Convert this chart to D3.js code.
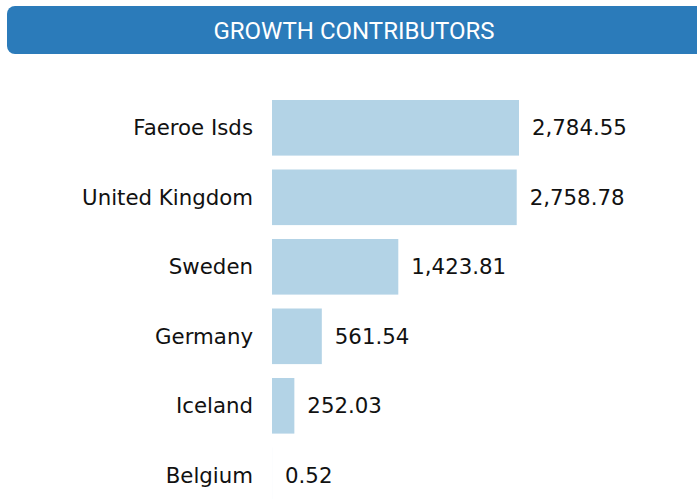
<!DOCTYPE html>
<html>
<head>
<meta charset="utf-8">
<script src="https://cdn.jsdelivr.net/npm/d3@7"></script>
<style>
  html, body { margin: 0; padding: 0; background: #ffffff; }
  svg { display: block; }
</style>
</head>
<body>
<svg id="chart" width="697" height="499"></svg>
<script>
// Contributors and their growth values
const countries = ["Faeroe Isds", "United Kingdom", "Sweden", "Germany", "Iceland", "Belgium"];
const values = [2784.55, 2758.78, 1423.81, 561.54, 252.03, 0.52];
const title = "GROWTH CONTRIBUTORS";

const svg = d3.select("#chart");

// Header banner
svg.append("rect")
  .attr("x", 7).attr("y", 6)
  .attr("width", 697).attr("height", 48)
  .attr("rx", 8).attr("ry", 8)
  .attr("fill", "#2b7bba");

svg.append("text")
  .attr("x", 354).attr("y", 31)
  .attr("text-anchor", "middle")
  .attr("dominant-baseline", "central")
  .attr("font-family", "Roboto, sans-serif")
  .attr("font-size", 24)
  .attr("fill", "#ffffff")
  .text(title);

const data = countries.map((c, i) => ({ name: c, value: values[i] }));

const x = d3.scaleLinear()
  .domain([0, d3.max(values)])
  .range([272, 519]);

// 69.5px per row, bars filling 80% of each row
const step = 69.5, padIn = 0.2;
const y = d3.scaleBand()
  .domain(countries)
  .range([100, 100 + step * (countries.length - padIn)])
  .paddingInner(padIn)
  .paddingOuter(0);

const fmt = d3.format(",.2f");

// Bars
svg.append("g").selectAll("rect")
  .data(data)
  .join("rect")
  .attr("x", x(0))
  .attr("y", d => y(d.name))
  .attr("width", d => Math.max(0, x(d.value) - x(0)))
  .attr("height", y.bandwidth())
  .attr("fill", "#b3d3e6");

// Category labels
svg.append("g").selectAll("text")
  .data(data)
  .join("text")
  .attr("x", 253)
  .attr("y", d => y(d.name) + y.bandwidth() / 2)
  .attr("text-anchor", "end")
  .attr("dominant-baseline", "central")
  .attr("font-family", "DejaVu Sans, sans-serif")
  .attr("font-size", 21.3)
  .attr("fill", "#111111")
  .text(d => d.name);

// Value labels
svg.append("g").selectAll("text")
  .data(data)
  .join("text")
  .attr("x", d => x(d.value) + 13)
  .attr("y", d => y(d.name) + y.bandwidth() / 2)
  .attr("text-anchor", "start")
  .attr("dominant-baseline", "central")
  .attr("font-family", "DejaVu Sans, sans-serif")
  .attr("font-size", 21.3)
  .attr("fill", "#111111")
  .text(d => fmt(d.value));
</script>
</body>
</html>
